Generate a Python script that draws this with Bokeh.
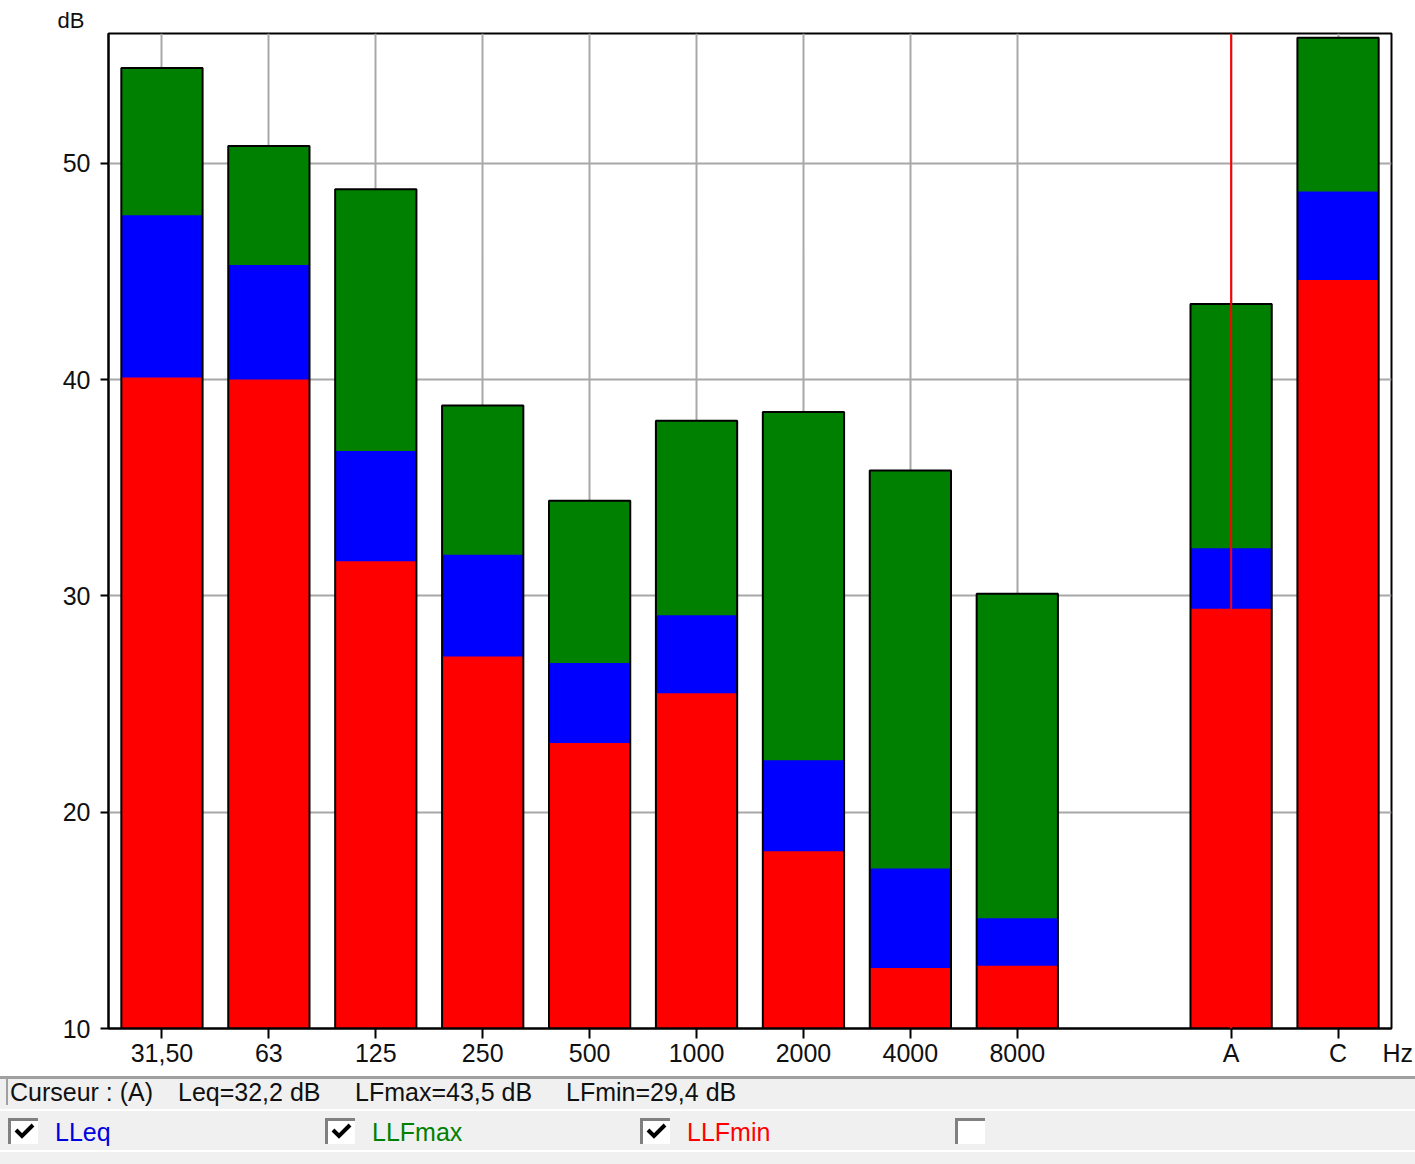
from bokeh.plotting import figure
from bokeh.models import Range1d, FixedTicker, Span, ColumnDataSource, Div
from bokeh.layouts import column
from bokeh.embed import file_html
from bokeh.resources import INLINE

# ---- data ----
bands = ["31,50", "63", "125", "250", "500", "1000", "2000", "4000", "8000", "A", "C"]
lfmax = [54.4, 50.8, 48.8, 38.8, 34.4, 38.1, 38.5, 35.8, 30.1, 43.5, 55.8]
leq = [47.6, 45.3, 36.7, 31.9, 26.9, 29.1, 22.4, 17.4, 15.1, 32.2, 48.7]
lfmin = [40.1, 40.0, 31.6, 27.2, 23.2, 25.5, 18.2, 12.8, 12.9, 29.4, 44.6]
y_ticks = [10, 20, 30, 40, 50]
cursor_band = "A"
series_names = ["LLeq", "LLFmax", "LLFmin"]
series_checked = [True, True, True]
x_unit = "Hz"
y_unit = "dB"

FONT = "Liberation Sans"
GREEN, BLUE, RED = "#008000", "#0000ff", "#ff0000"
BASE = 10

# frequency bands first, then a gap slot, then the A / C totals
xpos = [i if i < 9 else i + 1 for i in range(len(bands))]
src = ColumnDataSource(dict(x=xpos, band=bands, mx=lfmax, eq=leq, mn=lfmin))

p = figure(width=1415, height=1072, x_range=Range1d(-0.5, 11.5), y_range=Range1d(10, 56),
           output_backend="svg", toolbar_location=None,
           min_border_left=108, min_border_right=24, min_border_top=33, min_border_bottom=44)
p.background_fill_color = "white"
p.border_fill_color = "white"
p.outline_line_color = "black"
p.outline_line_width = 2

W = 0.76
p.vbar(x="x", bottom=BASE, top="mx", width=W, source=src, fill_color=GREEN, line_color=None)
p.vbar(x="x", bottom=BASE, top="eq", width=W, source=src, fill_color=BLUE, line_color=None)
p.vbar(x="x", bottom=BASE, top="mn", width=W, source=src, fill_color=RED, line_color=None)
p.vbar(x="x", bottom=BASE, top="mx", width=W, source=src, fill_color=None,
       line_color="black", line_width=2)

cx = xpos[bands.index(cursor_band)]
p.add_layout(Span(location=cx, dimension="height", line_color=RED, line_width=2))

# axes
p.xaxis.ticker = FixedTicker(ticks=xpos)
p.xaxis.major_label_overrides = {x: b for x, b in zip(xpos, bands)}
p.yaxis.ticker = FixedTicker(ticks=y_ticks)
for ax in (p.xaxis[0], p.yaxis[0]):
    ax.axis_line_color = "black"
    ax.axis_line_width = 2
    ax.major_tick_line_color = "black"
    ax.major_tick_line_width = 2
    ax.major_tick_in = 0
    ax.minor_tick_line_color = None
    ax.major_label_text_font = FONT
    ax.major_label_text_font_size = "25px"
    ax.major_label_text_color = "#101010"
p.xaxis.major_tick_out = 10
p.xaxis.major_label_standoff = 0
p.yaxis.major_tick_out = 8
p.yaxis.major_label_standoff = 10

p.xgrid.ticker = FixedTicker(ticks=xpos)
p.ygrid.ticker = FixedTicker(ticks=y_ticks[1:])
for g in (p.xgrid[0], p.ygrid[0]):
    g.grid_line_color = "#a8a8a8"
    g.grid_line_width = 2

# y unit label
p.title.text = y_unit
p.title.align = "left"
p.title.offset = -51
p.title.standoff = 2
p.title.text_font = FONT
p.title.text_font_size = "22px"
p.title.text_font_style = "normal"
p.title.text_color = "#101010"


# ---- status bar (below the chart, overlapping the axis-label strip for the Hz unit) ----
def fmt(v):
    return f"{v:.1f}".replace(".", ",")


ia = bands.index(cursor_band)
seg_text = [f"Curseur : ({cursor_band})", f"Leq={fmt(leq[ia])} dB",
            f"LFmax={fmt(lfmax[ia])} dB", f"LFmin={fmt(lfmin[ia])} dB"]
seg_x = [10, 178, 355, 566]

cb_x = [8, 325, 640, 955]
cb_labels = series_names + [""]
cb_checked = series_checked + [False]
cb_colors = ["#0000e0", GREEN, RED, "black"]

OV = 32  # overlap with the chart canvas
parts = []
parts.append(f'<span style="position:absolute;right:2px;top:0px;line-height:26px;'
             f'white-space:nowrap;color:#101010">{x_unit}</span>')
parts.append(f'<div style="position:absolute;left:0px;top:{OV}px;width:1415px;height:92px;background:#f0f0f0"></div>')
parts.append(f'<div style="position:absolute;left:0px;top:{OV}px;width:1415px;height:5px;background:#ffffff"></div>')
parts.append(f'<div style="position:absolute;left:0px;top:{OV + 4}px;width:1415px;height:3px;background:#a0a0a0"></div>')
parts.append(f'<div style="position:absolute;left:6px;top:{OV + 5}px;width:2px;height:28px;background:#a0a0a0"></div>')
parts.append(f'<div style="position:absolute;left:0px;top:{OV + 37}px;width:1415px;height:2px;background:#ffffff"></div>')
parts.append(f'<div style="position:absolute;left:0px;top:{OV + 78}px;width:1415px;height:2px;background:#ffffff"></div>')
for t, x in zip(seg_text, seg_x):
    parts.append(f'<span style="position:absolute;left:{x}px;top:{OV + 7}px;line-height:26px;'
                 f'white-space:nowrap;color:#101010">{t}</span>')
for x, lab, ck, col in zip(cb_x, cb_labels, cb_checked, cb_colors):
    mark = ('<polyline points="8,12 14,18 25,7" stroke="black" stroke-width="4" fill="none"/>'
            if ck else "")
    parts.append(f'<svg style="position:absolute;left:{x}px;top:{OV + 46}px" width="30" height="26">'
                 '<rect x="0" y="0" width="30" height="26" fill="#ffffff"/>'
                 '<path d="M1.5 26 V1.5 H30" stroke="#808080" stroke-width="3" fill="none"/>'
                 f'{mark}</svg>')
    if lab:
        parts.append(f'<span style="position:absolute;left:{x + 47}px;top:{OV + 47}px;line-height:26px;'
                     f'white-space:nowrap;color:{col}">{lab}</span>')

html = (f'<div style="position:relative;width:1415px;height:{92 + OV}px;background:transparent;'
        f"font-family:'{FONT}';font-size:25px;overflow:hidden\">" + "".join(parts) + "</div>")
status = Div(text=html, width=1415, height=92 + OV, margin=(-OV, 0, 0, 0))

layout = column(p, status, spacing=0)
open("out.html", "w").write(file_html(layout, INLINE))
